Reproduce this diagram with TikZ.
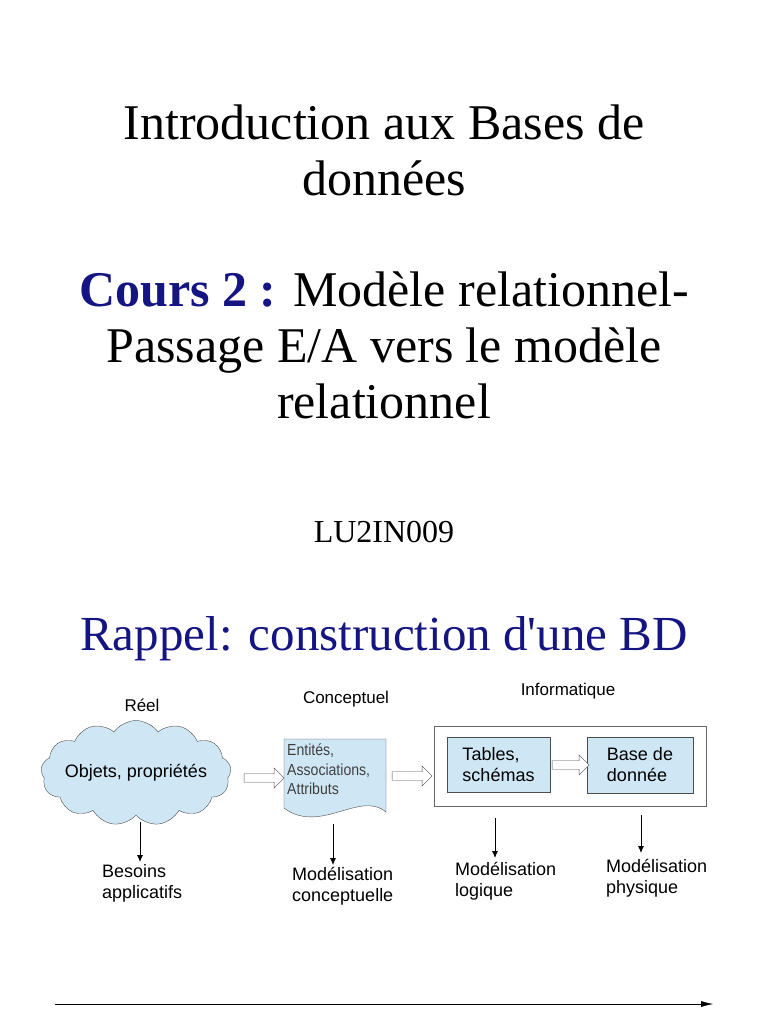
\documentclass[tikz,border=0pt]{standalone}
\usepackage{fontspec}
\setmainfont{Liberation Serif}
\setsansfont{Liberation Sans}
\newfontfamily\plainserif{Liberation Serif}
\usetikzlibrary{shapes.symbols,shapes.arrows,arrows.meta}
\definecolor{boxblue}{RGB}{207,231,245}
\definecolor{navy}{RGB}{20,20,130}
\begin{document}
\begin{tikzpicture}[x=1pt,y=-1pt,
  ttl/.style={font=\fontsize{50}{50}\selectfont,anchor=base},
  lab/.style={font=\sffamily\fontsize{18}{21}\selectfont,align=left,anchor=north west,inner sep=0},
  hdr/.style={font=\sffamily\fontsize{17}{20}\selectfont,inner sep=0},
  blk/.style={draw=black!70,fill=boxblue},
  harrow/.style={single arrow,draw=black!70,fill=white,minimum height=40pt,minimum width=20pt,single arrow head extend=3pt,inner sep=2pt},
  dn/.style={-{Latex[length=7pt,width=6pt]},thick}]
\useasboundingbox (0,0) rectangle (768,1024);
\node[ttl] (t1) at (384,140) {Introduction aux Bases de};
\node[ttl] (t2) at (384,196) {données};
\node[ttl] (t3) at (384,306) {\textcolor{navy}{\textbf{Cours 2 :}} Modèle relationnel-};
\node[ttl] (t4) at (384,362) {Passage E/A vers le modèle};
\node[ttl] (t5) at (384,418) {relationnel};
\node[font=\fontsize{32}{32}\selectfont,anchor=base] (lu) at (384,542) {LU2IN009};
\node[font=\plainserif\fontsize{49}{49}\selectfont,anchor=base,text=navy] (rap) at (384,650) {Rappel: construction d'une BD};
\node[hdr] (h1) at (142,705) {Réel};
\node[hdr] (h2) at (346,699) {Conceptuel};
\node[hdr] (h3) at (568,691) {Informatique};
\node[cloud,cloud puffs=13,cloud puff arc=110,aspect=1.8,blk,minimum width=190pt,minimum height=105pt,inner sep=0] (cl) at (136,773) {};
\node[font=\sffamily\fontsize{18}{21}\selectfont,inner sep=0] (clt) at (cl.center) {Objets, propriétés};
\draw[blk] (284,739) -- (386,739) -- (386,812) .. controls (360,790) and (320,835) .. (284,808) -- cycle;
\node[font=\sffamily\fontsize{16}{19.5}\selectfont,text=black!75,align=left,anchor=north west,inner sep=0] (doc) at (287,744) {\addfontfeature{FakeStretch=0.88}Entités,\\\addfontfeature{FakeStretch=0.88}Associations,\\\addfontfeature{FakeStretch=0.88}Attributs};
\draw[draw=black!60] (434,726) rectangle (706,806);
\node[blk,minimum width=103pt,minimum height=55pt,font=\sffamily\fontsize{18}{21}\selectfont,align=left] (b1) at (498.5,764.5) {Tables,\\schémas};
\node[blk,minimum width=106pt,minimum height=56pt,font=\sffamily\fontsize{18}{21}\selectfont,align=left] (b2) at (640,765) {Base de\\donnée};
\node[harrow] (a1) at (262,778) {};
\node[harrow] (a2) at (410,776) {};
\node[harrow,minimum height=37pt] (a3) at (568.5,765) {};
\coordinate (d1s) at (140,822); \coordinate (d1e) at (140,862);
\coordinate (d2s) at (333,824); \coordinate (d2e) at (333,865);
\coordinate (d3s) at (495,818); \coordinate (d3e) at (495,858);
\coordinate (d4s) at (641,815); \coordinate (d4e) at (641,853);
\draw[dn] (d1s) -- (d1e); \draw[dn] (d2s) -- (d2e);
\draw[dn] (d3s) -- (d3e); \draw[dn] (d4s) -- (d4e);
\node[lab] (l1) at (102,864) {Besoins\\applicatifs};
\node[lab] (l2) at (292,867) {Modélisation\\conceptuelle};
\node[lab] (l3) at (455,862) {Modélisation\\logique};
\node[lab] (l4) at (606,859) {Modélisation\\physique};
\coordinate (bs) at (55,1004); \coordinate (be) at (713,1004);
\draw[-{Latex[length=12pt,width=6pt]}] (bs) -- (be);
\end{tikzpicture}
\end{document}
